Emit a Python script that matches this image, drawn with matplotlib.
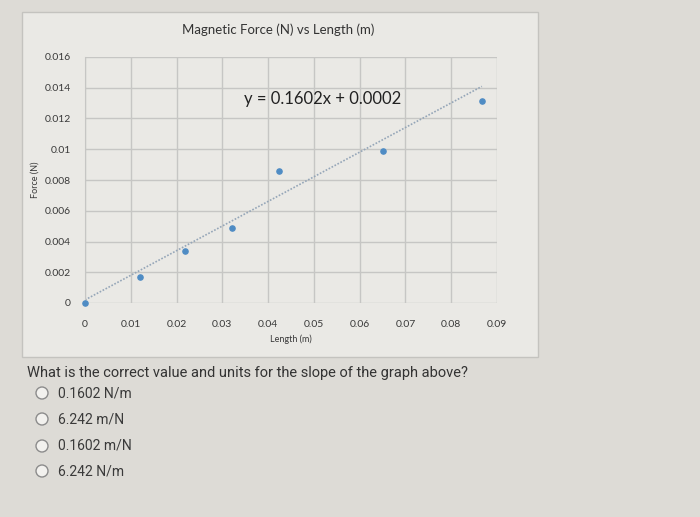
import matplotlib
matplotlib.use('Agg')
import matplotlib.pyplot as plt
from matplotlib.patches import Rectangle, Circle

# data
length_m = [0.0, 0.0121, 0.0219, 0.0321, 0.0423, 0.0651, 0.0867]
force_n = [0.0, 0.0017, 0.00335, 0.00485, 0.0086, 0.00987, 0.01313]
slope = 0.1602
intercept = 0.0002
x_ticks = [0, 0.01, 0.02, 0.03, 0.04, 0.05, 0.06, 0.07, 0.08, 0.09]
x_tick_labels = ['0', '0.01', '0.02', '0.03', '0.04', '0.05', '0.06', '0.07', '0.08', '0.09']
y_ticks = [0, 0.002, 0.004, 0.006, 0.008, 0.01, 0.012, 0.014, 0.016]
y_tick_labels = ['0', '0.002', '0.004', '0.006', '0.008', '0.01', '0.012', '0.014', '0.016']
question = 'What is the correct value and units for the slope of the graph above?'
options = ['0.1602 N/m', '6.242 m/N', '0.1602 m/N', '6.242 N/m']

W, H = 700, 517
fig = plt.figure(figsize=(7, 5.17), dpi=100)
fig.patch.set_facecolor('#dddbd6')

# background axes in pixel units for the frame and the question
bg = fig.add_axes([0, 0, 1, 1], zorder=-1)
bg.set_xlim(0, W)
bg.set_ylim(H, 0)
bg.axis('off')
bg.add_patch(Rectangle((22, 12), 538 - 22, 357 - 12, facecolor='#eae9e5',
                       edgecolor='#c4c3bf', lw=1))
bg.text(278, 30, 'Magnetic Force (N) vs Length (m)', ha='center', va='center',
        fontsize=9.5, family='Lato', color='#333333')
bg.text(27, 373, question, ha='left', va='center', fontsize=10.5,
        family='Roboto', color='#333333')
for yy, opt in zip([393, 419, 446, 471], options):
    bg.add_patch(Circle((42, yy), 6, facecolor='#f2f1ee', edgecolor='#8c8c8c', lw=1))
    bg.text(58, yy, opt, ha='left', va='center', fontsize=10,
            family='Roboto', color='#3a3a3a')

ax = fig.add_axes([85 / W, 1 - 303 / H, (497 - 85) / W, (303 - 57) / H])
ax.set_facecolor('#eae9e5')
ax.set_xlim(0, 0.09)
ax.set_ylim(0, 0.016)
ax.set_xticks(x_ticks)
ax.set_xticklabels(x_tick_labels)
ax.set_yticks(y_ticks)
ax.set_yticklabels(y_tick_labels)
ax.tick_params(length=0, labelsize=7.5, labelcolor='#3a3a3a')
ax.tick_params(axis='x', pad=12)
ax.tick_params(axis='y', pad=10)
for lbl in ax.get_xticklabels() + ax.get_yticklabels():
    lbl.set_family('Lato')
ax.grid(True, color='#c6c6c4', lw=1)
ax.set_axisbelow(True)
for s in ['top', 'right', 'bottom']:
    ax.spines[s].set_visible(False)
ax.spines['left'].set_color('#c6c6c4')

xs = [min(length_m), max(length_m)]
ax.plot(xs, [slope * x + intercept for x in xs], linestyle=(0, (1, 1)),
        color='#95a6b8', lw=1.2, zorder=2)
ax.scatter(length_m, force_n, s=14, color='#4f8cc4', zorder=3, clip_on=False)

ax.set_xlabel('Length (m)', fontsize=6.5, family='Lato', color='#3a3a3a', labelpad=4)
ax.set_ylabel('Force (N)', fontsize=6.5, family='Lato', color='#3a3a3a', labelpad=4)

ax.text(0.0518, 0.0133, f'y = {slope}x + {intercept}', ha='center', va='center',
        fontsize=12, family='Lato', color='#222222')

fig.savefig('out.png', dpi=100, facecolor=fig.get_facecolor())
